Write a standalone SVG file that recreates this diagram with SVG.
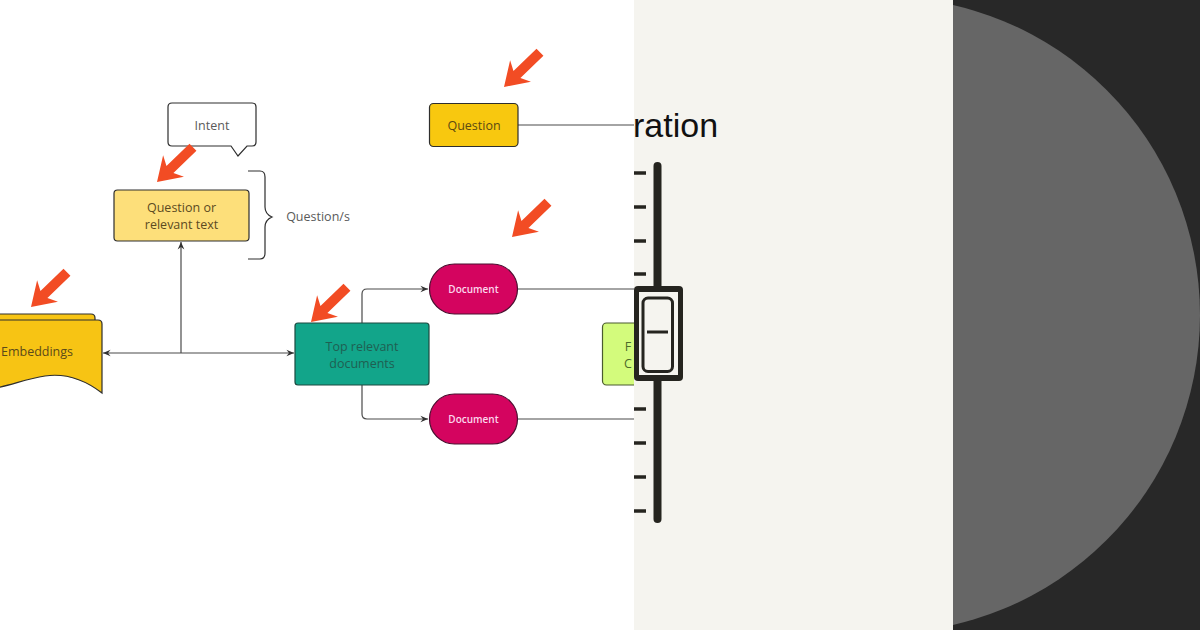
<svg xmlns="http://www.w3.org/2000/svg" width="1200" height="630" viewBox="0 0 1200 630">
  <defs>
    <style>
      .lbl { font-family: "Open Sans", "Liberation Sans", sans-serif; font-size: 12.5px; text-anchor: middle; }
      .plain { fill: #5a5a5a; }
      .conn { fill: none; stroke: #4a4a4a; stroke-width: 1.2; }
      .edge { stroke: #2e2e2e; stroke-width: 1.2; }
      .doc { fill: #d4045f; stroke: #4a1030; stroke-width: 1.2; }
      .doctext { font-family: "Open Sans", "Liberation Sans", sans-serif; font-size: 10px; font-weight: 600; fill: #fbd7ec; text-anchor: middle; }
      .tick { stroke: #25241f; stroke-width: 3.5; }
      .pointer { fill: #f24c24; }
    </style>
    <marker id="arr" viewBox="0 0 10 10" refX="9" refY="5" markerWidth="7" markerHeight="7" orient="auto-start-reverse">
      <path d="M0,1 L9,5 L0,9 L3,5 Z" fill="#333"/>
    </marker>
    <!-- callout pointer, tip at origin, pointing along +x -->
    <path id="redArrow" d="M0,0 L-23,-15 L-18,-5 L-50,-5 L-50,5 L-18,5 L-23,15 Z"/>
  </defs>

  <!-- page background -->
  <rect x="0" y="0" width="1200" height="630" fill="#ffffff"/>

  <!-- connectors -->
  <g id="connectors">
    <line class="conn" x1="518" y1="125" x2="640" y2="125"/>
    <line class="conn" x1="517" y1="289" x2="640" y2="289"/>
    <line class="conn" x1="517" y1="419" x2="640" y2="419"/>
    <line class="conn" x1="181" y1="353" x2="181" y2="242" marker-end="url(#arr)"/>
    <line class="conn" x1="103" y1="353" x2="294" y2="353" marker-start="url(#arr)" marker-end="url(#arr)"/>
    <path class="conn" d="M362,323 V294 Q362,289 367,289 H428" marker-end="url(#arr)"/>
    <path class="conn" d="M362,385 V414 Q362,419 367,419 H428" marker-end="url(#arr)"/>
  </g>

  <!-- Intent callout -->
  <g id="intent">
    <path d="M172,103 H252 Q256,103 256,107 V142 Q256,146 252,146 H247 L238,156 L231,146 H172 Q168,146 168,142 V107 Q168,103 172,103 Z" fill="#ffffff" stroke="#2e2e2e" stroke-width="1.2"/>
    <text class="lbl plain" x="212" y="129.5">Intent</text>
  </g>

  <!-- Question or relevant text -->
  <g id="question-text">
    <rect x="114" y="190" width="135" height="51" rx="3.5" fill="#fddf7a" class="edge"/>
    <text class="lbl" x="181.5" y="212" fill="#5b4a22">Question or</text>
    <text class="lbl" x="181.5" y="229" fill="#5b4a22">relevant text</text>
  </g>

  <!-- Brace with label -->
  <g id="brace">
    <path d="M248,171 H260 Q265,171 265,177 V207 Q265,214 272,217 Q265,220 265,227 V253 Q265,259 260,259 H248" fill="none" stroke="#2e2e2e" stroke-width="1.2"/>
    <text class="lbl plain" x="318" y="220.5">Question/s</text>
  </g>

  <!-- Embeddings (stacked documents) -->
  <g id="embeddings">
    <path d="M-5,314 H91 Q95,314 95,318 V330 H-5 Z" fill="#f7c414" class="edge"/>
    <path d="M-5,320 H98 Q102,320 102,324 V393 C85,380 65,373 45,376 C25,379 10,386 -5,388 Z" fill="#f7c414" class="edge"/>
    <text class="lbl" x="37" y="356" fill="#5b4a1a">Embeddings</text>
  </g>

  <!-- Top relevant documents -->
  <g id="top-docs">
    <rect x="295" y="323" width="134" height="62" rx="3" fill="#12a58a" stroke="#1c4a40" stroke-width="1.2"/>
    <text class="lbl" x="362" y="350.5" fill="#1f5f52">Top relevant</text>
    <text class="lbl" x="362" y="367.5" fill="#1f5f52">documents</text>
  </g>

  <!-- Question -->
  <g id="question">
    <rect x="429.5" y="103.5" width="88.5" height="43" rx="4" fill="#f8c80f" class="edge"/>
    <text class="lbl" x="474" y="129.5" fill="#5b4a12">Question</text>
  </g>

  <!-- Documents -->
  <g id="document-1">
    <rect class="doc" x="429.5" y="264" width="88" height="50" rx="25"/>
    <text class="doctext" x="473.5" y="292.5">Document</text>
  </g>
  <g id="document-2">
    <rect class="doc" x="429.5" y="394" width="88" height="50" rx="25"/>
    <text class="doctext" x="473.5" y="422.5">Document</text>
  </g>

  <!-- Partially covered green box -->
  <g id="green-box">
    <rect x="602.5" y="323" width="60" height="62" rx="4" fill="#d3fb7c" stroke="#4a5a30" stroke-width="1.2"/>
    <text class="lbl" x="628" y="350.5" fill="#4d6a2a">F</text>
    <text class="lbl" x="628" y="367.5" fill="#4d6a2a">C</text>
  </g>

  <!-- Pointers -->
  <g id="pointers" class="pointer">
    <use href="#redArrow" transform="translate(157,182) rotate(136)"/>
    <use href="#redArrow" transform="translate(31,307) rotate(136)"/>
    <use href="#redArrow" transform="translate(311,322) rotate(136)"/>
    <use href="#redArrow" transform="translate(504,87) rotate(136)"/>
    <use href="#redArrow" transform="translate(512,237) rotate(136)"/>
  </g>

  <!-- Settings panel -->
  <g id="panel">
    <rect x="634" y="0" width="319" height="630" fill="#f5f4ef"/>
    <text x="633" y="137" font-family="Liberation Sans, Arial, sans-serif" font-size="34" fill="#111111">ration</text>
    <!-- slider track and ticks -->
    <line x1="657.5" y1="166" x2="657.5" y2="519" stroke="#25241f" stroke-width="8" stroke-linecap="round"/>
    <g class="tick">
      <line x1="634" y1="173" x2="646" y2="173"/>
      <line x1="634" y1="207" x2="646" y2="207"/>
      <line x1="634" y1="241" x2="646" y2="241"/>
      <line x1="634" y1="274" x2="646" y2="274"/>
      <line x1="634" y1="409" x2="646" y2="409"/>
      <line x1="634" y1="443" x2="646" y2="443"/>
      <line x1="634" y1="477" x2="646" y2="477"/>
      <line x1="634" y1="511" x2="646" y2="511"/>
    </g>
    <!-- slider knob -->
    <rect x="634" y="286" width="49" height="95" rx="4" fill="#25241f"/>
    <rect x="639" y="292" width="39" height="83" fill="#f5f4ef"/>
    <rect x="643" y="298" width="29.5" height="73.5" rx="5" fill="#f5f4ef" stroke="#25241f" stroke-width="3"/>
    <line x1="647" y1="332" x2="668" y2="332" stroke="#25241f" stroke-width="3"/>
  </g>

  <!-- Dark side panel -->
  <g id="dark-panel">
    <rect x="953" y="0" width="247" height="630" fill="#282828"/>
    <clipPath id="darkClip"><rect x="953" y="0" width="247" height="630"/></clipPath>
    <circle cx="882" cy="315" r="318" fill="#666666" clip-path="url(#darkClip)"/>
  </g>
</svg>
